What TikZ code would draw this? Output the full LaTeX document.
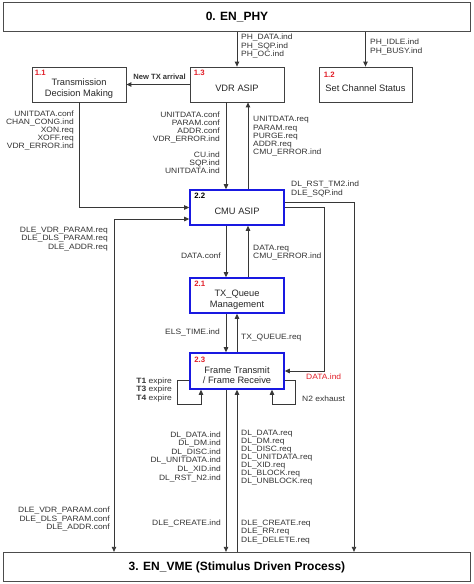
\documentclass[tikz,border=0pt]{standalone}
\usepackage{fontspec}
\setmainfont{Liberation Sans}
\newfontfamily\lblfont[FakeStretch=1.1]{Liberation Sans}
\usetikzlibrary{arrows.meta,calc}
\definecolor{numred}{RGB}{225,30,40}
\definecolor{bblue}{RGB}{25,25,225}
\definecolor{ln}{RGB}{55,55,55}
\begin{document}
\begin{tikzpicture}[x=1pt,y=-1pt,
  box/.style={draw=black!75,line width=0.8pt,minimum width=94pt,minimum height=35pt,inner sep=0pt},
  bbox/.style={box,draw=bblue,line width=1.6pt},
  big/.style={draw=black!70,line width=1.3pt,minimum width=467pt,minimum height=29pt,inner sep=0pt,font=\fontsize{12}{14}\selectfont\bfseries},
  btxt/.style={font=\fontsize{9.3}{11}\selectfont,align=center,inner sep=0pt,text=black!85},
  num/.style={font=\fontsize{7.8}{8}\selectfont\bfseries,anchor=north west,inner sep=0pt},
  lbl/.style={font=\lblfont\fontsize{7.7}{8.2}\selectfont,inner sep=0pt,text=black!80},
  lr/.style={lbl,align=right,anchor=east},
  ll/.style={lbl,align=left,anchor=west},
  conn/.style={draw=ln,line width=0.85pt},
  arr/.style={conn,-{Triangle[length=5pt,width=4.5pt]}},
  arrb/.style={conn,{Triangle[length=5pt,width=4.5pt]}-{Triangle[length=5pt,width=4.5pt]}},
]
\useasboundingbox (0,0) rectangle (474,584);

% main boxes
\node[big] (phy) at (237,17) {0. EN\_PHY};
\node[big] (vme) at (237,567) {3. EN\_VME (Stimulus Driven Process)};
\node[box] (b11) at (79,84.5) {};
\node[box] (b13) at (237,84.5) {};
\node[box,minimum width=93pt] (b12) at (365.5,84.5) {};
\node[bbox] (b22) at (237,207.5) {};
\node[bbox] (b21) at (237,295.5) {};
\node[bbox,minimum height=36pt] (b23) at (237,371) {};

% box texts
\node[btxt] (t11) at (79,88.5) {Transmission\\Decision Making};
\node[btxt] (t13) at (237,88) {VDR ASIP};
\node[btxt] (t12) at (365.5,88) {Set Channel Status};
\node[btxt] (t22) at (237,211) {CMU ASIP};
\node[btxt] (t21) at (237,299.5) {TX\_Queue\\Management};
\node[btxt,font=\fontsize{9.3}{9.6}\selectfont] (t23) at (237,375) {Frame Transmit\\/ Frame Receive};

% numbers
\node[num,text=numred] (n11) at ([xshift=3pt,yshift=-3pt]b11.north west) {1.1};
\node[num,text=numred] (n13) at ([xshift=4pt,yshift=-3pt]b13.north west) {1.3};
\node[num,text=numred] (n12) at ([xshift=5pt,yshift=-5pt]b12.north west) {1.2};
\node[num,text=black] (n22) at ([xshift=5pt,yshift=-4pt]b22.north west) {2.2};
\node[num,text=numred] (n21) at ([xshift=5pt,yshift=-4pt]b21.north west) {2.1};
\node[num,text=numred] (n23) at ([xshift=5pt,yshift=-5pt]b23.north west) {2.3};

% free ends
\coordinate (xl) at (114,0);
\coordinate (xr) at (354,0);
\coordinate (xd) at (324,0);

% connectors
\draw[arr] (phy.south -| b13.north) -- (b13.north);
\draw[arr] (phy.south -| b12.north) -- (b12.north);
\draw[arr] (b13.west) -- (b11.east);
\draw[arr] (b11.south) |- (b22.west);
\draw[arr] ([xshift=-11pt]b13.south) -- ([xshift=-11pt]b22.north);
\draw[arr] ([xshift=11pt]b22.north) -- ([xshift=11pt]b13.south);
\draw[arr] ([yshift=5.5pt]b22.east) -| (xr |- vme.north);
\draw[arr] (b22.east) -| (xd |- b23.east) -- (b23.east);
\draw[arrb] (xl |- vme.north) |- ([yshift=-11.5pt]b22.west);
\draw[arr] ([xshift=-11pt]b22.south) -- ([xshift=-11pt]b21.north);
\draw[arr] ([xshift=11pt]b21.north) -- ([xshift=11pt]b22.south);
\draw[arr] ([xshift=-11pt]b21.south) -- ([xshift=-11pt]b23.north);
\draw[arr] (b23.north) -- (b21.south);
\draw[arr] ([yshift=-9pt]b23.west) -- ++(-12,0) -- ++(0,24) -| ([xshift=-36pt]b23.south);
\draw[arr] ([yshift=-9pt]b23.east) -- ++(11,0) -- ++(0,24) -| ([xshift=35pt]b23.south);
\draw[arr] ([xshift=-11pt]b23.south) -- ([xshift=-11pt]vme.north);
\draw[arr] (vme.north) -- (b23.south);

% labels
\node[ll] (lph) at (241,46) {PH\_DATA.ind\\PH\_SQP.ind\\PH\_OC.ind};
\node[ll] (lidle) at (370,47) {PH\_IDLE.ind\\PH\_BUSY.ind};
\node[lbl,anchor=east,font=\fontsize{7.6}{8}\selectfont\bfseries] (lnew) at (186,77) {New TX arrival};
\node[lr] (l11) at (74,130.5) {UNITDATA.conf\\CHAN\_CONG.ind\\XON.req\\XOFF.req\\VDR\_ERROR.ind};
\node[lr] (lv1) at (220,127.5) {UNITDATA.conf\\PARAM.conf\\ADDR.conf\\VDR\_ERROR.ind};
\node[lr] (lv2) at (220,162.5) {CU.ind\\SQP.ind\\UNITDATA.ind};
\node[ll] (lvr) at (253,136.5) {UNITDATA.req\\PARAM.req\\PURGE.req\\ADDR.req\\CMU\_ERROR.ind};
\node[ll] (lrst) at (291,189) {DL\_RST\_TM2.ind\\DLE\_SQP.ind};
\node[lr] (ldlereq) at (108,239) {DLE\_VDR\_PARAM.req\\DLE\_DLS\_PARAM.req\\DLE\_ADDR.req};
\node[lr] (ldconf) at (221,256) {DATA.conf};
\node[ll] (ldreq) at (253,253) {DATA.req\\CMU\_ERROR.ind};
\node[lr] (lels) at (220,332) {ELS\_TIME.ind};
\node[ll] (ltxq) at (241,338) {TX\_QUEUE.req};
\node[ll,text=numred] (ldind) at (306,377) {DATA.ind};
\node[lr] (lt) at (172,390) {\textbf{T1} expire\\\textbf{T3} expire\\\textbf{T4} expire};
\node[ll] (ln2) at (302,399) {N2 exhaust};
\node[lr,font=\lblfont\fontsize{7.7}{8.6}\selectfont] (ldlind) at (221,456.5) {DL\_DATA.ind\\DL\_DM.ind\\DL\_DISC.ind\\DL\_UNITDATA.ind\\DL\_XID.ind\\DL\_RST\_N2.ind};
\node[ll,font=\lblfont\fontsize{7.7}{8}\selectfont] (ldlreq) at (241,458) {DL\_DATA.req\\DL\_DM.req\\DL\_DISC.req\\DL\_UNITDATA.req\\DL\_XID.req\\DL\_BLOCK.req\\DL\_UNBLOCK.req};
\node[lr] (ldleconf) at (110,519) {DLE\_VDR\_PARAM.conf\\DLE\_DLS\_PARAM.conf\\DLE\_ADDR.conf};
\node[lr] (lcind) at (221,523) {DLE\_CREATE.ind};
\node[ll] (lcreq) at (241,532) {DLE\_CREATE.req\\DLE\_RR.req\\DLE\_DELETE.req};
\end{tikzpicture}
\end{document}
